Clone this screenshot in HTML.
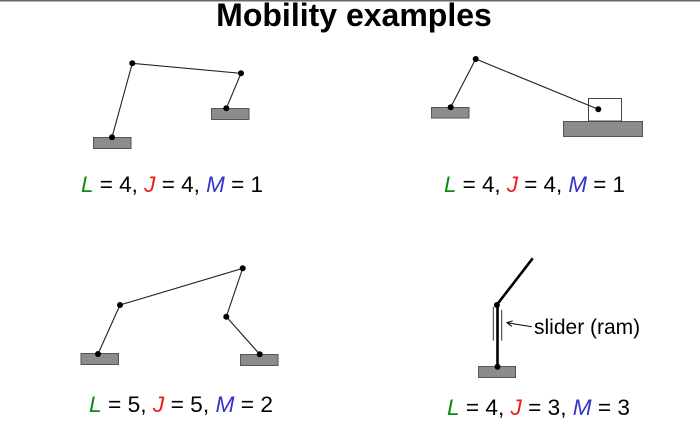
<!DOCTYPE html>
<html>
<head>
<meta charset="utf-8">
<style>
  html, body { margin:0; padding:0; background:#fff; }
  svg { display:block; }
  text { font-family: "Liberation Sans", Arial, sans-serif; }
</style>
</head>
<body>
<svg width="700" height="435" viewBox="0 0 700 435" xmlns="http://www.w3.org/2000/svg">
  <rect x="0" y="0" width="700" height="435" fill="#fff"/>
  <rect x="0" y="0" width="700" height="1.5" fill="#6a6a6a"/>

  <!-- Title -->
  <text x="354" y="26" font-size="32" font-weight="bold" text-anchor="middle" fill="#000">Mobility examples</text>

  <!-- Example 1 -->
  <g stroke="#555" stroke-width="1" fill="#8c8c8c">
    <rect x="93.5" y="137.5" width="37.5" height="11"/>
    <rect x="211.5" y="108.5" width="37.5" height="11"/>
  </g>
  <polyline points="112,137.3 132.3,63.3 241,73.3 226.3,108.3" fill="none" stroke="#222" stroke-width="1.1"/>
  <g fill="#000">
    <circle cx="112" cy="137.3" r="3"/>
    <circle cx="132.3" cy="63.3" r="3"/>
    <circle cx="241" cy="73.3" r="3"/>
    <circle cx="226.3" cy="108.3" r="3"/>
  </g>
  <text x="81" y="192" font-size="22" textLength="182" lengthAdjust="spacingAndGlyphs" fill="#000"><tspan fill="#128a12" font-style="italic">L</tspan> = 4, <tspan fill="#ee1c1c" font-style="italic">J</tspan> = 4, <tspan fill="#3333cc" font-style="italic">M</tspan> = 1</text>

  <!-- Example 2 -->
  <g stroke="#555" stroke-width="1" fill="#8c8c8c">
    <rect x="431.5" y="107.5" width="37.5" height="10.5"/>
    <rect x="563.5" y="121.5" width="79" height="15"/>
  </g>
  <rect x="588.5" y="98.5" width="33" height="22.5" fill="#fff" stroke="#444" stroke-width="1"/>
  <polyline points="450.7,107.3 475.7,59 598.3,109.3" fill="none" stroke="#222" stroke-width="1.1"/>
  <g fill="#000">
    <circle cx="450.7" cy="107.3" r="3"/>
    <circle cx="475.7" cy="59" r="3"/>
    <circle cx="598.3" cy="109.3" r="3"/>
  </g>
  <text x="444" y="192" font-size="22" textLength="181" lengthAdjust="spacingAndGlyphs" fill="#000"><tspan fill="#128a12" font-style="italic">L</tspan> = 4, <tspan fill="#ee1c1c" font-style="italic">J</tspan> = 4, <tspan fill="#3333cc" font-style="italic">M</tspan> = 1</text>

  <!-- Example 3 -->
  <g stroke="#555" stroke-width="1" fill="#8c8c8c">
    <rect x="81" y="353.5" width="37.5" height="11"/>
    <rect x="240.5" y="354.5" width="37.5" height="11"/>
  </g>
  <polyline points="98,354 120,305 242.7,268.3 226.3,316.7 259.7,354.3" fill="none" stroke="#222" stroke-width="1.1"/>
  <g fill="#000">
    <circle cx="98" cy="354" r="3"/>
    <circle cx="120" cy="305" r="3"/>
    <circle cx="242.7" cy="268.3" r="3"/>
    <circle cx="226.3" cy="316.7" r="3"/>
    <circle cx="259.7" cy="354.3" r="3"/>
  </g>
  <text x="89" y="412" font-size="22" textLength="184" lengthAdjust="spacingAndGlyphs" fill="#000"><tspan fill="#128a12" font-style="italic">L</tspan> = 5, <tspan fill="#ee1c1c" font-style="italic">J</tspan> = 5, <tspan fill="#3333cc" font-style="italic">M</tspan> = 2</text>

  <!-- Example 4 -->
  <rect x="478.5" y="366.5" width="37" height="11" fill="#8c8c8c" stroke="#555" stroke-width="1"/>
  <line x1="532.7" y1="258.3" x2="496.7" y2="305" stroke="#000" stroke-width="2.6"/>
  <line x1="497.5" y1="305" x2="497.5" y2="367" stroke="#000" stroke-width="2.6"/>
  <line x1="493.3" y1="306.7" x2="493.3" y2="340.7" stroke="#333" stroke-width="1"/>
  <line x1="501.7" y1="310" x2="501.7" y2="340.7" stroke="#333" stroke-width="1"/>
  <g fill="#000">
    <circle cx="496.9" cy="305" r="3"/>
    <circle cx="497.5" cy="366.7" r="3"/>
  </g>
  <line x1="531.7" y1="326.7" x2="507" y2="322.7" stroke="#000" stroke-width="1"/>
  <polyline points="512.7,320.8 507,322.7 511.8,326.3" fill="none" stroke="#000" stroke-width="1"/>
  <text x="534" y="334" font-size="21" fill="#000">slider (ram)</text>
  <text x="447" y="415" font-size="22" textLength="183" lengthAdjust="spacingAndGlyphs" fill="#000"><tspan fill="#128a12" font-style="italic">L</tspan> = 4, <tspan fill="#ee1c1c" font-style="italic">J</tspan> = 3, <tspan fill="#3333cc" font-style="italic">M</tspan> = 3</text>
</svg>
</body>
</html>
